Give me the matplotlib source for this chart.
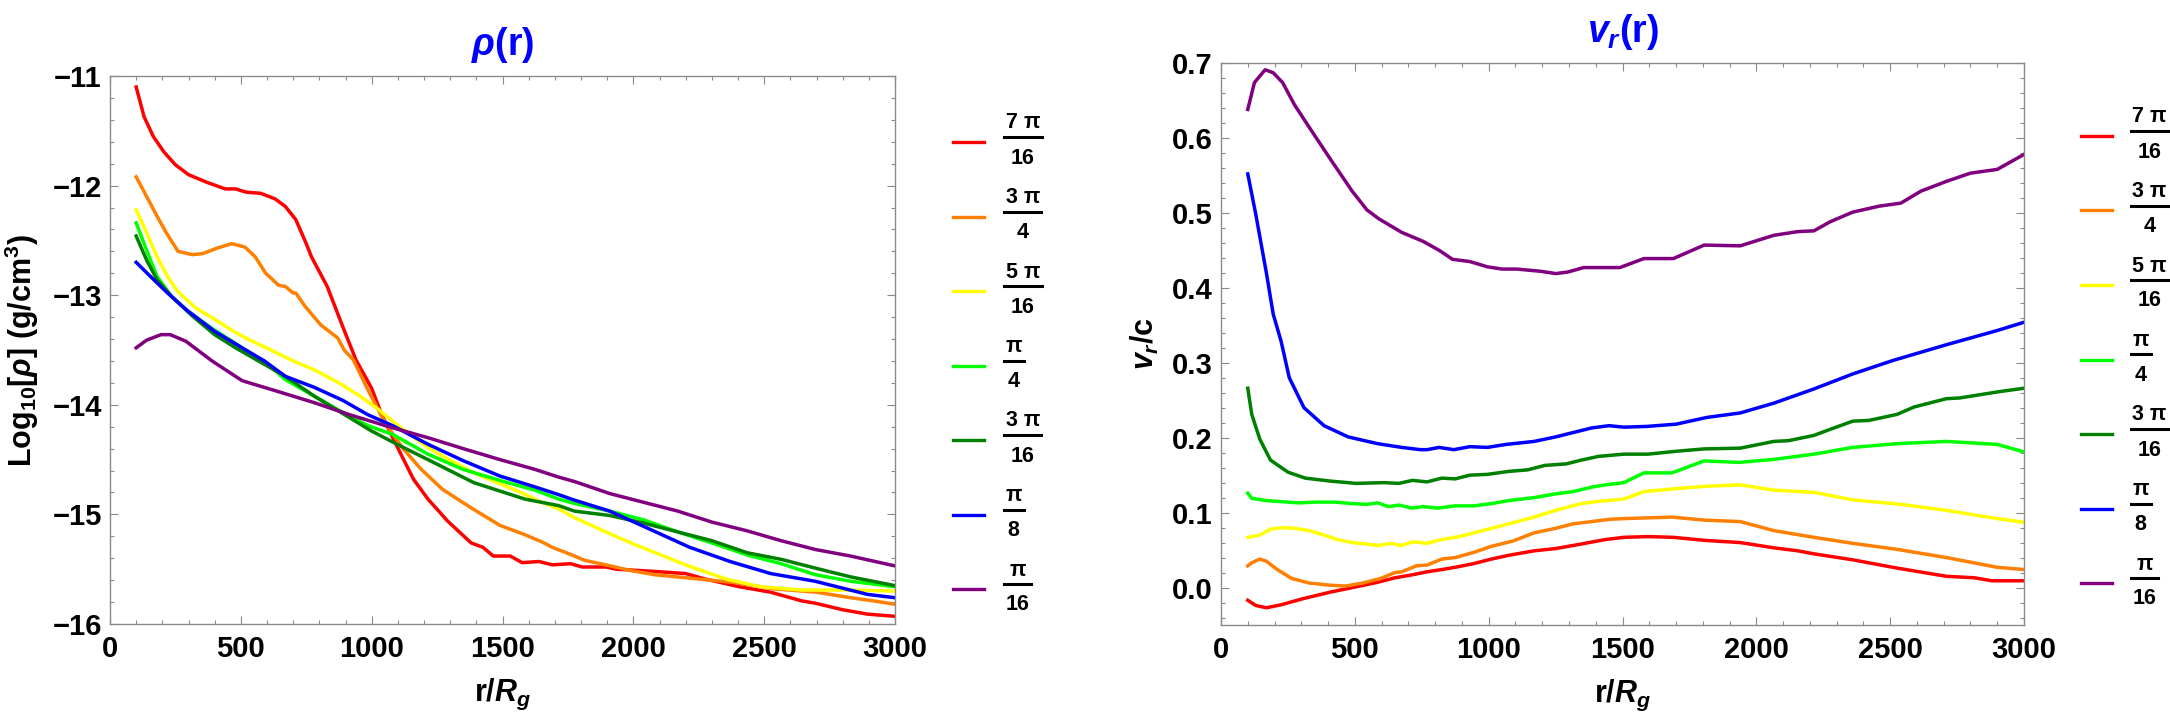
import matplotlib
matplotlib.use("Agg")
import matplotlib.pyplot as plt
from matplotlib.lines import Line2D
from matplotlib.ticker import MultipleLocator, FormatStrFormatter

plt.rcParams["font.family"] = ["Liberation Sans", "DejaVu Sans"]
plt.rcParams["font.weight"] = "bold"
plt.rcParams["axes.labelweight"] = "bold"
plt.rcParams["axes.titleweight"] = "bold"
plt.rcParams["mathtext.fontset"] = "custom"
plt.rcParams["mathtext.rm"] = "Liberation Sans:bold"
plt.rcParams["mathtext.it"] = "Liberation Sans:italic:bold"
plt.rcParams["mathtext.bf"] = "Liberation Sans:bold"

# legend entries (numerator, denominator) and colours
angles = [("7 π", "16"), ("3 π", "4"), ("5 π", "16"), ("π", "4"),
          ("3 π", "16"), ("π", "8"), ("π", "16")]
colors = ["#ff0000", "#ff8000", "#ffff00", "#00ff00", "#008000", "#0000ff", "#800080"]

# ---- left panel: Log10 density ----
r_rho_1 = [100, 130, 165, 205, 250, 300, 370, 440, 480, 520, 575, 630, 670, 710, 750, 770, 810, 830, 890, 940,
           1000, 1040, 1095, 1160, 1215, 1290, 1380, 1425, 1465, 1530, 1575, 1640, 1690, 1760, 1805, 1895, 1935,
           2080, 2200, 2275, 2405, 2525, 2645, 2695, 2800, 2895, 3000]
rho_1 = [-11.10, -11.37, -11.55, -11.69, -11.81, -11.90, -11.97, -12.03, -12.03, -12.06, -12.07, -12.12, -12.19,
         -12.31, -12.53, -12.65, -12.83, -12.92, -13.29, -13.59, -13.85, -14.10, -14.37, -14.68, -14.86, -15.06,
         -15.26, -15.30, -15.38, -15.38, -15.44, -15.43, -15.46, -15.45, -15.48, -15.48, -15.50, -15.52, -15.54,
         -15.59, -15.66, -15.71, -15.79, -15.81, -15.87, -15.91, -15.93]

r_rho_2 = [100, 140, 180, 215, 260, 315, 355, 410, 465, 515, 555, 595, 645, 670, 700, 710, 745, 805, 870, 895,
           930, 985, 1050, 1120, 1190, 1270, 1380, 1490, 1580, 1650, 1690, 1765, 1815, 1895, 1985, 2080, 2210,
           2380, 2540, 2700, 2830, 2920, 3000]
rho_2 = [-11.92, -12.10, -12.28, -12.43, -12.60, -12.63, -12.62, -12.57, -12.53, -12.56, -12.65, -12.80, -12.91,
         -12.92, -12.98, -12.98, -13.10, -13.27, -13.39, -13.50, -13.59, -13.86, -14.16, -14.40, -14.59, -14.77,
         -14.94, -15.10, -15.18, -15.25, -15.30, -15.37, -15.42, -15.46, -15.51, -15.55, -15.58, -15.62, -15.68,
         -15.71, -15.76, -15.79, -15.82]

r_rho_3 = [100, 140, 180, 220, 260, 330, 400, 465, 535, 615, 700, 780, 875, 955, 1025, 1080, 1145, 1215, 1295,
           1390, 1490, 1570, 1650, 1715, 1775, 1895, 2000, 2105, 2210, 2355, 2485, 2645, 2830, 3000]
rho_3 = [-12.22, -12.43, -12.65, -12.83, -12.97, -13.12, -13.22, -13.32, -13.41, -13.50, -13.60, -13.68, -13.80,
         -13.92, -14.04, -14.15, -14.27, -14.39, -14.50, -14.62, -14.72, -14.80, -14.89, -14.95, -15.03, -15.16,
         -15.27, -15.37, -15.47, -15.59, -15.66, -15.69, -15.69, -15.70]

r_rho_4 = [100, 140, 180, 235, 300, 400, 480, 550, 590, 670, 780, 875, 985, 1080, 1215, 1350, 1490, 1625, 1715,
           1775, 1910, 2040, 2170, 2300, 2435, 2565, 2695, 2830, 3000]
rho_4 = [-12.34, -12.59, -12.83, -13.01, -13.15, -13.32, -13.44, -13.56, -13.60, -13.77, -13.92, -14.05, -14.19,
         -14.27, -14.45, -14.59, -14.69, -14.78, -14.86, -14.90, -14.97, -15.05, -15.16, -15.26, -15.37, -15.45,
         -15.55, -15.61, -15.66]

r_rho_5 = [100, 140, 180, 235, 315, 400, 480, 560, 670, 780, 890, 1000, 1105, 1240, 1390, 1585, 1715, 1775, 1910,
           2040, 2170, 2300, 2435, 2565, 2695, 2830, 3000]
rho_5 = [-12.46, -12.68, -12.86, -13.01, -13.19, -13.36, -13.48, -13.59, -13.74, -13.92, -14.08, -14.24, -14.37,
         -14.53, -14.71, -14.86, -14.92, -14.97, -15.01, -15.08, -15.16, -15.24, -15.35, -15.41, -15.49, -15.57,
         -15.65]

r_rho_6 = [100, 155, 220, 290, 400, 505, 590, 670, 780, 890, 985, 1080, 1215, 1350, 1490, 1625, 1715, 1775, 1910,
           2040, 2215, 2370, 2525, 2695, 2895, 3000]
rho_6 = [-12.70, -12.83, -12.98, -13.13, -13.33, -13.48, -13.60, -13.74, -13.84, -13.96, -14.09, -14.19, -14.36,
         -14.51, -14.65, -14.75, -14.82, -14.87, -14.97, -15.11, -15.30, -15.43, -15.54, -15.61, -15.73, -15.76]

r_rho_7 = [100, 140, 195, 230, 290, 390, 505, 630, 780, 915, 1080, 1215, 1350, 1490, 1625, 1715, 1775, 1910, 2040,
           2170, 2300, 2435, 2565, 2695, 2830, 3000]
rho_7 = [-13.48, -13.41, -13.36, -13.36, -13.42, -13.60, -13.78, -13.87, -13.98, -14.09, -14.21, -14.30, -14.40,
         -14.50, -14.59, -14.66, -14.70, -14.81, -14.89, -14.97, -15.07, -15.15, -15.24, -15.32, -15.38, -15.47]

# ---- right panel: v_r / c ----
r_v_1 = [100, 130, 170, 225, 305, 410, 505, 585, 650, 715, 770, 825, 875, 945, 1010, 1075, 1170, 1250, 1345, 1435,
         1505, 1595, 1690, 1805, 1940, 2065, 2155, 2215, 2360, 2525, 2710, 2815, 2880, 3000]
v_1 = [-0.017, -0.024, -0.027, -0.023, -0.015, -0.006, 0.001, 0.007, 0.013, 0.017, 0.021, 0.024, 0.027, 0.032,
       0.038, 0.043, 0.049, 0.052, 0.058, 0.064, 0.067, 0.068, 0.067, 0.063, 0.060, 0.053, 0.049, 0.045, 0.037,
       0.026, 0.015, 0.013, 0.009, 0.009]

r_v_2 = [100, 115, 145, 170, 210, 265, 330, 410, 465, 530, 595, 650, 675, 730, 770, 825, 875, 945, 1010, 1090,
         1170, 1250, 1315, 1385, 1450, 1505, 1595, 1685, 1805, 1940, 2065, 2215, 2360, 2525, 2710, 2900, 3000]
v_2 = [0.029, 0.033, 0.038, 0.035, 0.024, 0.012, 0.006, 0.003, 0.002, 0.006, 0.012, 0.020, 0.021, 0.029, 0.030,
       0.038, 0.040, 0.047, 0.055, 0.062, 0.073, 0.079, 0.085, 0.088, 0.091, 0.092, 0.093, 0.094, 0.090, 0.088,
       0.076, 0.067, 0.059, 0.051, 0.040, 0.027, 0.024]

r_v_3 = [100, 145, 185, 230, 275, 330, 385, 435, 490, 545, 585, 635, 675, 715, 770, 825, 890, 945, 1010, 1075,
         1170, 1250, 1345, 1410, 1505, 1580, 1700, 1805, 1940, 2065, 2215, 2360, 2540, 2710, 2900, 3000]
v_3 = [0.067, 0.070, 0.078, 0.080, 0.079, 0.076, 0.070, 0.064, 0.060, 0.058, 0.056, 0.059, 0.056, 0.061, 0.059,
       0.064, 0.068, 0.073, 0.079, 0.085, 0.094, 0.103, 0.112, 0.115, 0.118, 0.128, 0.132, 0.135, 0.137, 0.130,
       0.127, 0.117, 0.111, 0.103, 0.092, 0.087]

r_v_4 = [100, 115, 170, 250, 290, 355, 425, 490, 545, 585, 625, 665, 715, 755, 810, 875, 945, 1010, 1075, 1170,
         1250, 1315, 1385, 1435, 1505, 1580, 1685, 1805, 1935, 2065, 2215, 2360, 2525, 2710, 2900, 3000]
v_4 = [0.126, 0.119, 0.116, 0.114, 0.113, 0.114, 0.114, 0.112, 0.111, 0.113, 0.108, 0.110, 0.106, 0.108, 0.106,
       0.109, 0.109, 0.112, 0.116, 0.120, 0.125, 0.128, 0.134, 0.137, 0.140, 0.153, 0.153, 0.169, 0.167, 0.171,
       0.178, 0.187, 0.192, 0.195, 0.191, 0.181]

r_v_5 = [100, 115, 145, 185, 250, 315, 410, 505, 610, 665, 715, 770, 825, 875, 930, 995, 1075, 1145, 1210, 1290,
         1345, 1410, 1505, 1595, 1705, 1805, 1940, 2065, 2120, 2215, 2275, 2360, 2420, 2525, 2590, 2710, 2760,
         2900, 3000]
v_5 = [0.266, 0.231, 0.198, 0.170, 0.154, 0.146, 0.142, 0.139, 0.140, 0.139, 0.143, 0.141, 0.146, 0.145, 0.150,
       0.151, 0.155, 0.157, 0.163, 0.165, 0.170, 0.175, 0.178, 0.178, 0.182, 0.185, 0.186, 0.195, 0.196, 0.203,
       0.211, 0.222, 0.223, 0.231, 0.241, 0.252, 0.253, 0.261, 0.266]

r_v_6 = [100, 130, 170, 195, 225, 255, 310, 385, 475, 585, 675, 745, 770, 815, 870, 930, 995, 1065, 1170, 1250,
         1385, 1450, 1505, 1590, 1700, 1815, 1940, 2065, 2215, 2360, 2510, 2710, 2900, 3000]
v_6 = [0.552, 0.498, 0.419, 0.365, 0.328, 0.280, 0.240, 0.216, 0.201, 0.192, 0.187, 0.184, 0.184, 0.187, 0.184,
       0.188, 0.187, 0.191, 0.195, 0.201, 0.213, 0.216, 0.214, 0.215, 0.218, 0.227, 0.233, 0.246, 0.265, 0.285,
       0.303, 0.324, 0.343, 0.354]

r_v_7 = [100, 125, 165, 195, 230, 275, 330, 410, 490, 545, 590, 675, 755, 815, 865, 930, 995, 1050, 1105, 1195,
         1250, 1295, 1355, 1390, 1490, 1580, 1690, 1805, 1940, 2065, 2155, 2215, 2275, 2360, 2460, 2540, 2615,
         2710, 2800, 2900, 3000]
v_7 = [0.638, 0.674, 0.691, 0.687, 0.674, 0.644, 0.614, 0.571, 0.529, 0.504, 0.492, 0.474, 0.462, 0.450, 0.438,
       0.435, 0.428, 0.425, 0.425, 0.422, 0.419, 0.421, 0.427, 0.427, 0.427, 0.439, 0.439, 0.457, 0.456, 0.470,
       0.475, 0.476, 0.488, 0.501, 0.509, 0.513, 0.529, 0.542, 0.553, 0.558, 0.578]

rho_series = [(r_rho_1, rho_1), (r_rho_2, rho_2), (r_rho_3, rho_3), (r_rho_4, rho_4),
              (r_rho_5, rho_5), (r_rho_6, rho_6), (r_rho_7, rho_7)]
v_series = [(r_v_1, v_1), (r_v_2, v_2), (r_v_3, v_3), (r_v_4, v_4),
            (r_v_5, v_5), (r_v_6, v_6), (r_v_7, v_7)]

W, H = 2170, 713
fig = plt.figure(figsize=(W / 100, H / 100), dpi=100)

ax1 = fig.add_axes([110 / W, 1 - 624 / H, 785 / W, 548 / H])
ax2 = fig.add_axes([1221 / W, 1 - 625 / H, 803 / W, 562 / H])

for (x, y), c in zip(rho_series, colors):
    ax1.plot(x, y, color=c, lw=2.5)
for (x, y), c in zip(v_series, colors):
    ax2.plot(x, y, color=c, lw=2.5)

ax1.set_xlim(0, 3000)
ax1.set_ylim(-16, -11)
ax1.yaxis.set_major_locator(MultipleLocator(1))
ax1.yaxis.set_minor_locator(MultipleLocator(0.2))

ax2.set_xlim(0, 3000)
ax2.set_ylim(-0.05, 0.7)
ax2.yaxis.set_major_locator(MultipleLocator(0.1))
ax2.yaxis.set_minor_locator(MultipleLocator(0.02))
ax2.yaxis.set_major_formatter(FormatStrFormatter("%.1f"))

for ax in (ax1, ax2):
    ax.xaxis.set_major_locator(MultipleLocator(500))
    ax.xaxis.set_minor_locator(MultipleLocator(100))
    ax.tick_params(which="both", direction="in", top=True, right=True,
                   color="#8a8a8a", width=0.8, labelsize=21)
    ax.tick_params(which="major", length=6)
    ax.tick_params(which="minor", length=3)
    ax.tick_params(axis="y", pad=6)
    ax.tick_params(axis="x", pad=8)
    for s in ax.spines.values():
        s.set_color("#8a8a8a")
        s.set_linewidth(1.0)
    ax.set_xlabel(r"r/$R_g$", fontsize=22, fontweight="bold", labelpad=10)

ax1.set_ylabel(r"Log$_{10}$[$\rho$] (g/cm$^3$)", fontsize=22, fontweight="bold", labelpad=8)
ax2.set_ylabel(r"$v_r$/c", fontsize=22, fontweight="bold", labelpad=8)
ax1.set_title(r"$\rho$(r)", color="#0000ff", fontsize=27, fontweight="bold", pad=15)
ax2.set_title(r"$v_r$(r)", color="#0000ff", fontsize=27, fontweight="bold", pad=15)

fig.canvas.draw()
for ax in (ax1, ax2):
    for t in ax.get_xticklabels() + ax.get_yticklabels():
        t.set_fontweight("bold")

# hand-drawn legends with stacked fractions
renderer = fig.canvas.get_renderer()


def draw_legend(x_line, x_text, y0, step):
    for i, ((num, den), c) in enumerate(zip(angles, colors)):
        y = y0 + i * step
        fig.add_artist(Line2D([x_line / W, (x_line + 31) / W], [1 - y / H] * 2, color=c, lw=2.4))
        tn = fig.text(0, 0, num, fontsize=15.5, fontweight="bold", ha="center", va="center")
        td = fig.text(0, 0, den, fontsize=15.5, fontweight="bold", ha="center", va="center")
        w = max(tn.get_window_extent(renderer).width, td.get_window_extent(renderer).width) + 3
        cx = x_text + w / 2
        tn.set_position((cx / W, 1 - (y - 19) / H))
        td.set_position((cx / W, 1 - (y + 16) / H))
        fig.add_artist(Line2D([x_text / W, (x_text + w) / W], [1 - (y - 5) / H] * 2, color="black", lw=2.2))


draw_legend(953, 1004, 142, 74.5)
draw_legend(2081, 2131, 136, 74.5)

fig.savefig("out.png", dpi=100)
